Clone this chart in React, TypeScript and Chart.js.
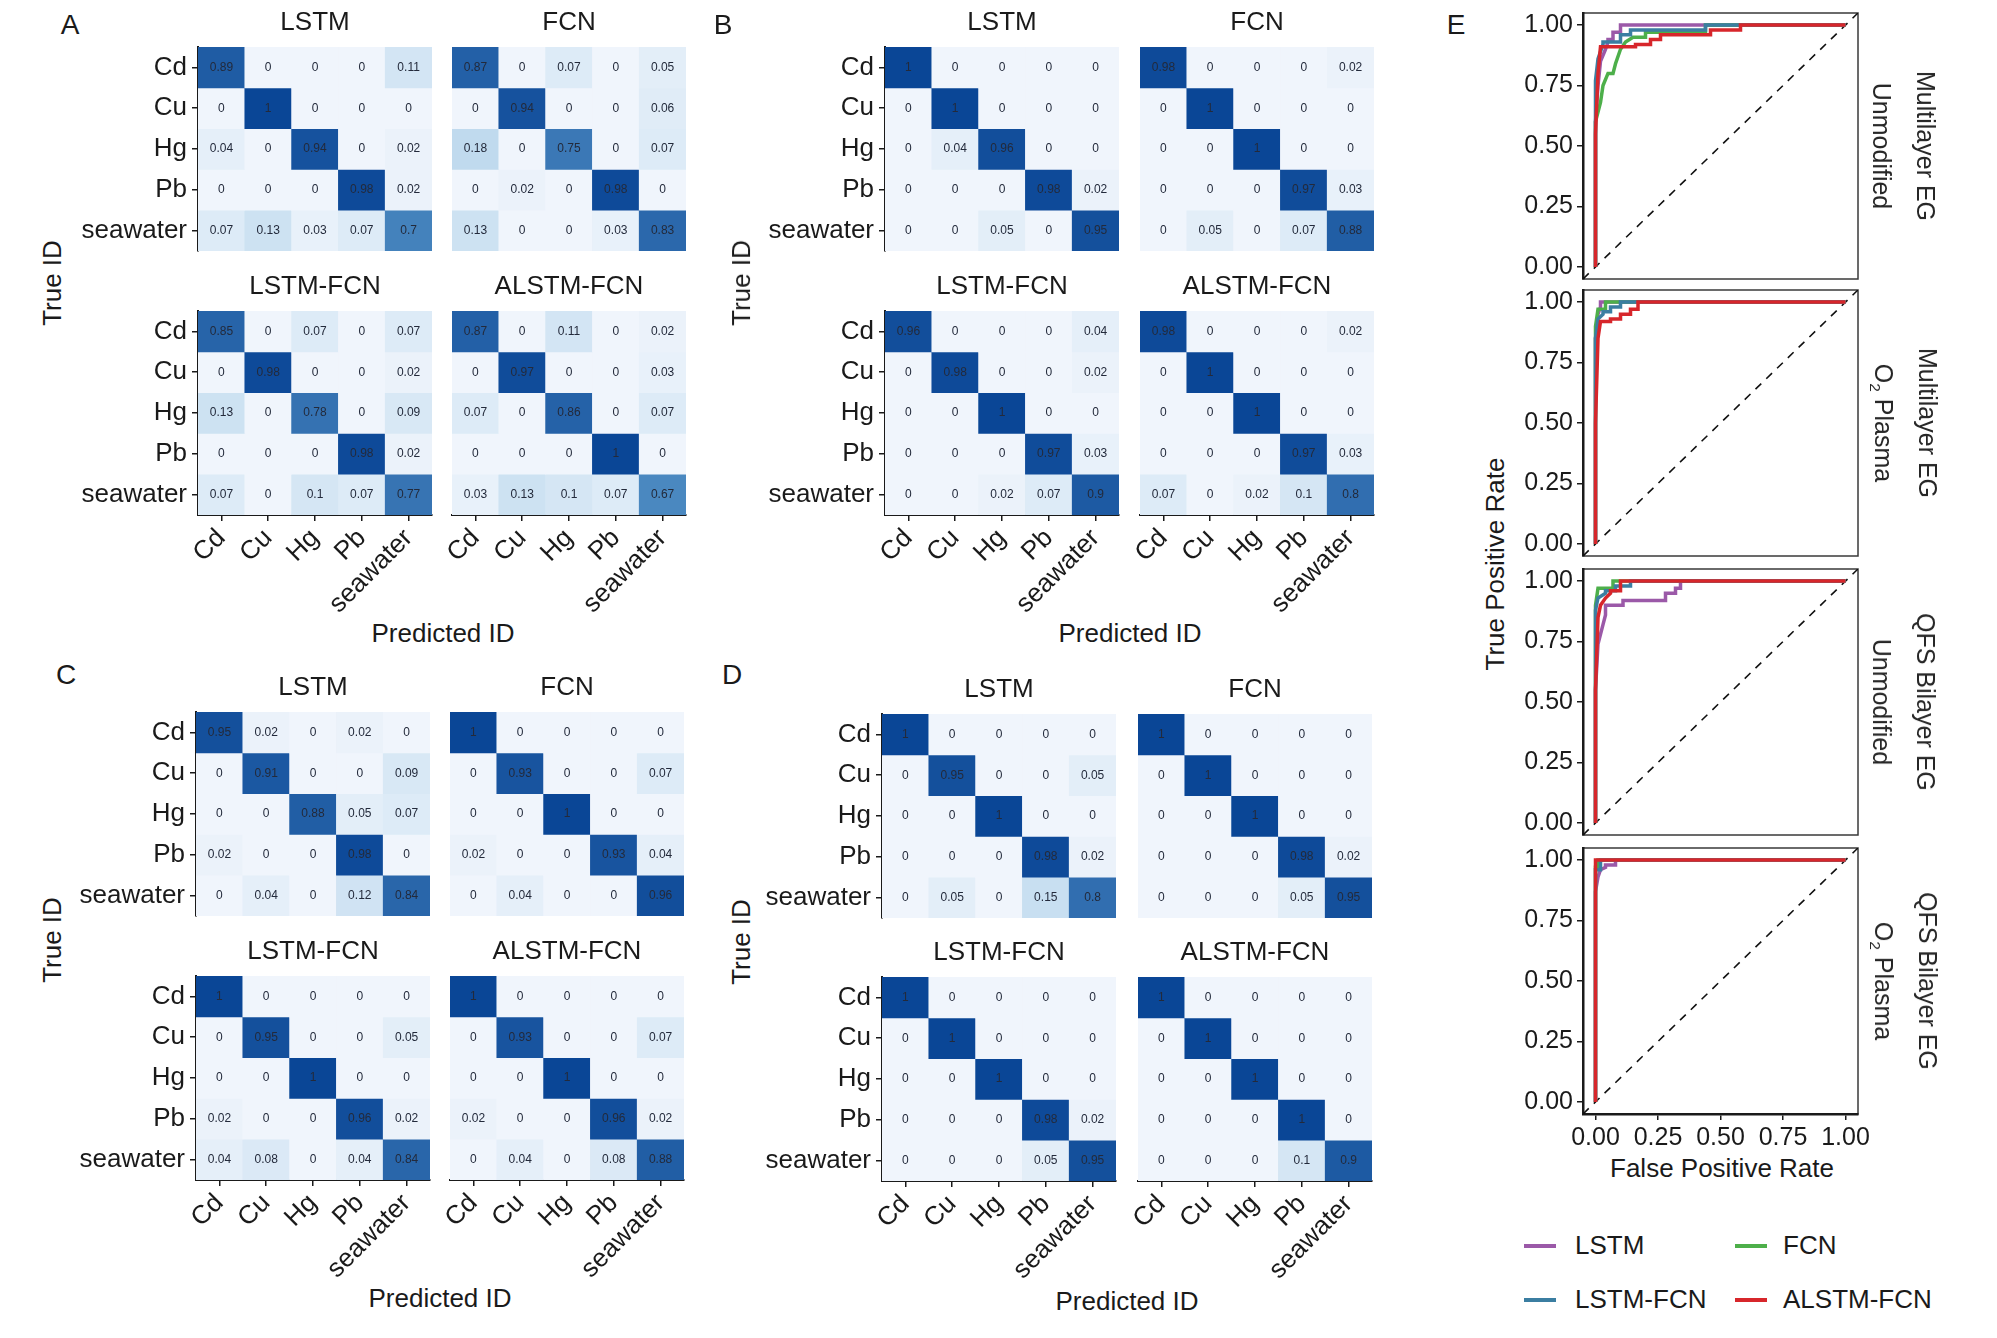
import React, { useEffect, useRef } from "react";
import { Chart, registerables } from "chart.js";

Chart.register(...registerables);

const FONT = '"Liberation Sans", Arial, Helvetica, sans-serif';
const INK = "#1a1a1a";

// ---- shared categories ----
const classes = ["Cd", "Cu", "Hg", "Pb", "seawater"];
const models = ["LSTM", "FCN", "LSTM-FCN", "ALSTM-FCN"];
const modelColors = ["#9b59a8", "#4daf4a", "#3b7ea1", "#d7262b"];
const rocTicks = [0, 0.25, 0.5, 0.75, 1];

// ---- panel A: confusion matrices (rows = true, cols = predicted) ----
const aLstm = [
  [0.89, 0, 0, 0, 0.11],
  [0, 1, 0, 0, 0],
  [0.04, 0, 0.94, 0, 0.02],
  [0, 0, 0, 0.98, 0.02],
  [0.07, 0.13, 0.03, 0.07, 0.7],
];
const aFcn = [
  [0.87, 0, 0.07, 0, 0.05],
  [0, 0.94, 0, 0, 0.06],
  [0.18, 0, 0.75, 0, 0.07],
  [0, 0.02, 0, 0.98, 0],
  [0.13, 0, 0, 0.03, 0.83],
];
const aLstmFcn = [
  [0.85, 0, 0.07, 0, 0.07],
  [0, 0.98, 0, 0, 0.02],
  [0.13, 0, 0.78, 0, 0.09],
  [0, 0, 0, 0.98, 0.02],
  [0.07, 0, 0.1, 0.07, 0.77],
];
const aAlstmFcn = [
  [0.87, 0, 0.11, 0, 0.02],
  [0, 0.97, 0, 0, 0.03],
  [0.07, 0, 0.86, 0, 0.07],
  [0, 0, 0, 1, 0],
  [0.03, 0.13, 0.1, 0.07, 0.67],
];

// ---- panel B ----
const bLstm = [
  [1, 0, 0, 0, 0],
  [0, 1, 0, 0, 0],
  [0, 0.04, 0.96, 0, 0],
  [0, 0, 0, 0.98, 0.02],
  [0, 0, 0.05, 0, 0.95],
];
const bFcn = [
  [0.98, 0, 0, 0, 0.02],
  [0, 1, 0, 0, 0],
  [0, 0, 1, 0, 0],
  [0, 0, 0, 0.97, 0.03],
  [0, 0.05, 0, 0.07, 0.88],
];
const bLstmFcn = [
  [0.96, 0, 0, 0, 0.04],
  [0, 0.98, 0, 0, 0.02],
  [0, 0, 1, 0, 0],
  [0, 0, 0, 0.97, 0.03],
  [0, 0, 0.02, 0.07, 0.9],
];
const bAlstmFcn = [
  [0.98, 0, 0, 0, 0.02],
  [0, 1, 0, 0, 0],
  [0, 0, 1, 0, 0],
  [0, 0, 0, 0.97, 0.03],
  [0.07, 0, 0.02, 0.1, 0.8],
];

// ---- panel C ----
const cLstm = [
  [0.95, 0.02, 0, 0.02, 0],
  [0, 0.91, 0, 0, 0.09],
  [0, 0, 0.88, 0.05, 0.07],
  [0.02, 0, 0, 0.98, 0],
  [0, 0.04, 0, 0.12, 0.84],
];
const cFcn = [
  [1, 0, 0, 0, 0],
  [0, 0.93, 0, 0, 0.07],
  [0, 0, 1, 0, 0],
  [0.02, 0, 0, 0.93, 0.04],
  [0, 0.04, 0, 0, 0.96],
];
const cLstmFcn = [
  [1, 0, 0, 0, 0],
  [0, 0.95, 0, 0, 0.05],
  [0, 0, 1, 0, 0],
  [0.02, 0, 0, 0.96, 0.02],
  [0.04, 0.08, 0, 0.04, 0.84],
];
const cAlstmFcn = [
  [1, 0, 0, 0, 0],
  [0, 0.93, 0, 0, 0.07],
  [0, 0, 1, 0, 0],
  [0.02, 0, 0, 0.96, 0.02],
  [0, 0.04, 0, 0.08, 0.88],
];

// ---- panel D ----
const dLstm = [
  [1, 0, 0, 0, 0],
  [0, 0.95, 0, 0, 0.05],
  [0, 0, 1, 0, 0],
  [0, 0, 0, 0.98, 0.02],
  [0, 0.05, 0, 0.15, 0.8],
];
const dFcn = [
  [1, 0, 0, 0, 0],
  [0, 1, 0, 0, 0],
  [0, 0, 1, 0, 0],
  [0, 0, 0, 0.98, 0.02],
  [0, 0, 0, 0.05, 0.95],
];
const dLstmFcn = [
  [1, 0, 0, 0, 0],
  [0, 1, 0, 0, 0],
  [0, 0, 1, 0, 0],
  [0, 0, 0, 0.98, 0.02],
  [0, 0, 0, 0.05, 0.95],
];
const dAlstmFcn = [
  [1, 0, 0, 0, 0],
  [0, 1, 0, 0, 0],
  [0, 0, 1, 0, 0],
  [0, 0, 0, 1, 0],
  [0, 0, 0, 0.1, 0.9],
];

// ---- panel E: ROC curves (false positive rate, true positive rate) ----
// Multilayer EG, unmodified
const mlUnmodLstmFpr = [0, 0, 0.01, 0.02, 0.04, 0.05, 0.05, 0.07, 0.07, 0.1, 0.1, 1];
const mlUnmodLstmTpr = [0, 0.6, 0.75, 0.85, 0.9, 0.93, 0.94, 0.94, 0.97, 0.97, 1, 1];
const mlUnmodFcnFpr = [0, 0, 0.02, 0.03, 0.05, 0.07, 0.08, 0.1, 0.12, 0.15, 0.2, 0.2, 0.44, 0.44, 1];
const mlUnmodFcnTpr = [0, 0.6, 0.68, 0.75, 0.8, 0.8, 0.84, 0.9, 0.93, 0.95, 0.95, 0.97, 0.97, 1, 1];
const mlUnmodLstmFcnFpr = [0, 0, 0.01, 0.03, 0.03, 0.1, 0.1, 0.14, 0.14, 0.44, 0.44, 1];
const mlUnmodLstmFcnTpr = [0, 0.77, 0.86, 0.92, 0.93, 0.93, 0.96, 0.96, 0.98, 0.98, 1, 1];
const mlUnmodAlstmFcnFpr = [0, 0, 0.01, 0.02, 0.16, 0.16, 0.22, 0.22, 0.26, 0.26, 0.46, 0.46, 0.58, 0.58, 1];
const mlUnmodAlstmFcnTpr = [0, 0.55, 0.8, 0.91, 0.91, 0.92, 0.92, 0.94, 0.94, 0.96, 0.96, 0.98, 0.98, 1, 1];

// Multilayer EG, O2 plasma
const mlPlasmaLstmFpr = [0, 0, 0.01, 0.02, 0.02, 1];
const mlPlasmaLstmTpr = [0, 0.85, 0.95, 0.98, 1, 1];
const mlPlasmaFcnFpr = [0, 0, 0.01, 0.04, 0.04, 1];
const mlPlasmaFcnTpr = [0, 0.9, 0.97, 0.97, 1, 1];
const mlPlasmaLstmFcnFpr = [0, 0, 0.01, 0.03, 0.03, 0.06, 0.06, 0.1, 0.1, 1];
const mlPlasmaLstmFcnTpr = [0, 0.85, 0.93, 0.95, 0.96, 0.96, 0.98, 0.98, 1, 1];
const mlPlasmaAlstmFcnFpr = [0, 0, 0.01, 0.02, 0.06, 0.06, 0.1, 0.1, 0.14, 0.14, 0.17, 0.17, 1];
const mlPlasmaAlstmFcnTpr = [0, 0.5, 0.85, 0.92, 0.92, 0.93, 0.93, 0.95, 0.95, 0.97, 0.97, 1, 1];

// QFS bilayer EG, unmodified
const qfsUnmodLstmFpr = [0, 0, 0.01, 0.02, 0.03, 0.04, 0.04, 0.11, 0.11, 0.28, 0.28, 0.32, 0.32, 0.34, 0.34, 1];
const qfsUnmodLstmTpr = [0, 0.55, 0.74, 0.78, 0.82, 0.86, 0.9, 0.9, 0.92, 0.92, 0.95, 0.95, 0.97, 0.97, 1, 1];
const qfsUnmodFcnFpr = [0, 0, 0.01, 0.07, 0.07, 1];
const qfsUnmodFcnTpr = [0, 0.9, 0.97, 0.97, 1, 1];
const qfsUnmodLstmFcnFpr = [0, 0, 0.01, 0.04, 0.04, 0.08, 0.08, 0.14, 0.14, 1];
const qfsUnmodLstmFcnTpr = [0, 0.88, 0.93, 0.95, 0.96, 0.96, 0.98, 0.98, 1, 1];
const qfsUnmodAlstmFcnFpr = [0, 0, 0.01, 0.02, 0.04, 0.06, 0.06, 0.1, 0.1, 1];
const qfsUnmodAlstmFcnTpr = [0, 0.55, 0.85, 0.9, 0.93, 0.95, 0.96, 0.96, 1, 1];

// QFS bilayer EG, O2 plasma
const qfsPlasmaLstmFpr = [0, 0, 0.01, 0.02, 0.04, 0.04, 0.08, 0.08, 1];
const qfsPlasmaLstmTpr = [0, 0.87, 0.93, 0.96, 0.97, 0.98, 0.98, 1, 1];
const qfsPlasmaFcnFpr = [0, 0, 0.01, 0.01, 1];
const qfsPlasmaFcnTpr = [0, 0.97, 0.97, 1, 1];
const qfsPlasmaLstmFcnFpr = [0, 0, 0.02, 0.02, 1];
const qfsPlasmaLstmFcnTpr = [0, 0.96, 0.96, 1, 1];
const qfsPlasmaAlstmFcnFpr = [0, 0, 1];
const qfsPlasmaAlstmFcnTpr = [0, 1, 1];

// ---- colour ramp for the tiles ----
const rampLow = [240, 245, 252];
const rampMid = [107, 170, 214];
const rampHigh = [10, 70, 150];

function shade(v: number): string {
  const t = Math.max(0, Math.min(1, v));
  const [a, b, f] = t < 0.5 ? [rampLow, rampMid, t / 0.5] : [rampMid, rampHigh, (t - 0.5) / 0.5];
  const c = a.map((ch, i) => Math.round(ch + (b[i] - ch) * f));
  return `rgb(${c[0]},${c[1]},${c[2]})`;
}

// ---- confusion matrix chart ----
const MAT_W = 234;
const MAT_H = 204;
const Y_AXIS_W = 140;
const TITLE_H = 40;
const X_AXIS_H = 100;
const PAD_RIGHT = 14;
const PAD_LEFT_BARE = 40;
const PAD_BOTTOM_BARE = 24;

type MatrixProps = {
  x0: number;
  y0: number;
  title: string;
  values: number[][];
  showY: boolean;
  showX: boolean;
};

function ConfusionMatrix({ x0, y0, title, values, showY, showX }: MatrixProps) {
  const ref = useRef<HTMLCanvasElement | null>(null);
  const leftSpace = showY ? Y_AXIS_W : PAD_LEFT_BARE;
  const bottomSpace = showX ? X_AXIS_H : PAD_BOTTOM_BARE;
  const width = leftSpace + MAT_W + PAD_RIGHT;
  const height = TITLE_H + MAT_H + bottomSpace;

  useEffect(() => {
    const canvas = ref.current;
    if (!canvas) return;

    const cellText = {
      id: "cellText",
      afterDatasetsDraw(chart: any) {
        const { ctx } = chart;
        const xs = chart.scales.x;
        const ys = chart.scales.y;
        ctx.save();
        ctx.font = `12px ${FONT}`;
        ctx.fillStyle = "#232a3b";
        ctx.textAlign = "center";
        ctx.textBaseline = "middle";
        values.forEach((row, i) =>
          row.forEach((v, j) => {
            ctx.fillText(String(v), xs.getPixelForValue(j), ys.getPixelForValue(i + 0.5));
          })
        );
        ctx.restore();
      },
    };

    const xScale: any = {
      display: showX,
      z: 1,
      grid: { drawOnChartArea: false, drawTicks: true, tickLength: 6, offset: false, color: INK, lineWidth: 1.5 },
      border: { display: true, color: INK, width: 2 },
      ticks: {
        color: INK,
        font: { family: FONT, size: 26 },
        minRotation: 45,
        maxRotation: 45,
        autoSkip: false,
        padding: 2,
      },
    };
    if (showX) {
      xScale.afterFit = (s: any) => {
        s.height = X_AXIS_H;
      };
    }

    const yScale: any = {
      type: "linear",
      min: 0,
      max: 5,
      reverse: true,
      display: showY,
      z: 1,
      afterBuildTicks: (s: any) => {
        s.ticks = classes.map((_, i) => ({ value: i + 0.5 }));
      },
      ticks: {
        color: INK,
        font: { family: FONT, size: 26 },
        padding: 5,
        autoSkip: false,
        callback: (_v: any, idx: number) => classes[idx],
      },
      grid: { drawOnChartArea: false, drawTicks: true, tickLength: 6, color: INK, lineWidth: 1.5 },
      border: { display: true, color: INK, width: 2 },
    };
    if (showY) {
      yScale.afterFit = (s: any) => {
        s.width = Y_AXIS_W;
      };
    }

    const chart = new Chart(canvas, {
      type: "bar",
      data: {
        labels: classes,
        datasets: classes.map((name, i) => ({
          label: name,
          data: classes.map(() => [i, i + 1]),
          backgroundColor: values[i].map(shade),
          borderWidth: 0,
          barPercentage: 1,
          categoryPercentage: 1,
          grouped: false,
        })),
      },
      options: {
        responsive: false,
        animation: false,
        events: [],
        layout: {
          padding: {
            left: showY ? 0 : PAD_LEFT_BARE,
            right: PAD_RIGHT,
            top: 0,
            bottom: showX ? 0 : PAD_BOTTOM_BARE,
          },
        },
        plugins: {
          legend: { display: false },
          tooltip: { enabled: false },
          title: {
            display: true,
            text: title,
            fullSize: false,
            color: INK,
            font: { family: FONT, size: 26, weight: "normal", lineHeight: 1.2 },
            padding: { top: 0, bottom: TITLE_H - 26 * 1.2 },
          },
        },
        scales: { x: xScale, y: yScale },
      } as any,
      plugins: [cellText],
    });
    return () => chart.destroy();
  }, [values, title, showX, showY]);

  return (
    <canvas
      ref={ref}
      width={width}
      height={height}
      style={{ position: "absolute", left: x0 - leftSpace, top: y0 - TITLE_H, width, height }}
    />
  );
}

// ---- ROC chart ----
const ROC_X = 1583;
const ROC_W = 275;
const ROC_H = 266;
const ROC_Y_AXIS_W = 80;
const ROC_PAD_T = 20;
const ROC_PAD_R = 26;
const ROC_X_AXIS_H = 46;
const AXIS_MIN = -0.05;
const AXIS_MAX = 1.05;

type Curve = { fpr: number[]; tpr: number[] };

function RocPanel({ top, curves, showX }: { top: number; curves: Curve[]; showX: boolean }) {
  const ref = useRef<HTMLCanvasElement | null>(null);
  const width = ROC_Y_AXIS_W + ROC_W + ROC_PAD_R;
  const bottomSpace = showX ? ROC_X_AXIS_H : 20;
  const height = ROC_PAD_T + ROC_H + bottomSpace;

  useEffect(() => {
    const canvas = ref.current;
    if (!canvas) return;

    const frame = {
      id: "frame",
      beforeDraw(chart: any) {
        const { ctx, chartArea: a } = chart;
        ctx.save();
        ctx.fillStyle = "#ffffff";
        ctx.fillRect(a.left, a.top, a.width, a.height);
        ctx.strokeStyle = "#3a3a3a";
        ctx.lineWidth = 1.5;
        ctx.strokeRect(a.left, a.top, a.width, a.height);
        ctx.restore();
      },
    };

    const drawOrder = [3, 2, 1, 0];
    const datasets: any[] = curves.map((c, k) => ({
      label: models[k],
      data: c.fpr.map((x, i) => ({ x, y: c.tpr[i] })),
      showLine: true,
      borderColor: modelColors[k],
      borderWidth: 3.5,
      pointRadius: 0,
      fill: false,
      tension: 0,
      order: drawOrder[k],
    }));
    datasets.push({
      label: "chance",
      data: [
        { x: AXIS_MIN, y: AXIS_MIN },
        { x: AXIS_MAX, y: AXIS_MAX },
      ],
      showLine: true,
      borderColor: "#111111",
      borderWidth: 1.6,
      borderDash: [8, 7],
      pointRadius: 0,
      fill: false,
      order: 10,
    });

    const tickFont = { family: FONT, size: 25 };
    const xScale: any = {
      type: "linear",
      min: AXIS_MIN,
      max: AXIS_MAX,
      display: showX,
      afterBuildTicks: (s: any) => {
        s.ticks = rocTicks.map((v) => ({ value: v }));
      },
      ticks: {
        color: INK,
        font: tickFont,
        padding: 3,
        maxRotation: 0,
        autoSkip: false,
        callback: (v: any) => Number(v).toFixed(2),
      },
      grid: { drawOnChartArea: false, drawTicks: true, tickLength: 6, color: INK, lineWidth: 1.5 },
      border: { display: true, color: INK, width: 2.5 },
    };
    if (showX) {
      xScale.afterFit = (s: any) => {
        s.height = ROC_X_AXIS_H;
      };
    }
    const yScale: any = {
      type: "linear",
      min: AXIS_MIN,
      max: AXIS_MAX,
      afterBuildTicks: (s: any) => {
        s.ticks = rocTicks.map((v) => ({ value: v }));
      },
      ticks: {
        color: INK,
        font: tickFont,
        padding: 4,
        autoSkip: false,
        callback: (v: any) => Number(v).toFixed(2),
      },
      grid: { drawOnChartArea: false, drawTicks: true, tickLength: 6, color: INK, lineWidth: 1.5 },
      border: { display: true, color: INK, width: 2.5 },
      afterFit: (s: any) => {
        s.width = ROC_Y_AXIS_W;
      },
    };

    const chart = new Chart(canvas, {
      type: "scatter",
      data: { datasets },
      options: {
        responsive: false,
        animation: false,
        events: [],
        layout: { padding: { top: ROC_PAD_T, right: ROC_PAD_R, bottom: showX ? 0 : 20, left: 0 } },
        plugins: { legend: { display: false }, tooltip: { enabled: false } },
        scales: { x: xScale, y: yScale },
      } as any,
      plugins: [frame],
    });
    return () => chart.destroy();
  }, [curves, showX]);

  return (
    <canvas
      ref={ref}
      width={width}
      height={height}
      style={{ position: "absolute", left: ROC_X - ROC_Y_AXIS_W, top: top - ROC_PAD_T, width, height }}
    />
  );
}

// ---- text helper ----
function Label({
  x,
  y,
  size,
  rotate = 0,
  color = INK,
  children,
}: {
  x: number;
  y: number;
  size: number;
  rotate?: number;
  color?: string;
  children: React.ReactNode;
}) {
  return (
    <div
      style={{
        position: "absolute",
        left: x,
        top: y,
        transform: `translate(-50%, -50%) rotate(${rotate}deg)`,
        fontSize: size,
        lineHeight: 1.15,
        whiteSpace: "nowrap",
        color,
      }}
    >
      {children}
    </div>
  );
}

// ---- layout of the four matrix panels ----
const matrixPanels = [
  { letter: "A", letterAt: [70, 25], cols: [198, 452], rows: [47, 311], mats: [aLstm, aFcn, aLstmFcn, aAlstmFcn], trueAt: [53, 283], predAt: [443, 634] },
  { letter: "B", letterAt: [723, 25], cols: [885, 1140], rows: [47, 311], mats: [bLstm, bFcn, bLstmFcn, bAlstmFcn], trueAt: [742, 283], predAt: [1130, 634] },
  { letter: "C", letterAt: [66, 675], cols: [196, 450], rows: [712, 976], mats: [cLstm, cFcn, cLstmFcn, cAlstmFcn], trueAt: [53, 940], predAt: [440, 1299] },
  { letter: "D", letterAt: [732, 675], cols: [882, 1138], rows: [714, 977], mats: [dLstm, dFcn, dLstmFcn, dAlstmFcn], trueAt: [742, 942], predAt: [1127, 1302] },
];

const rocTops = [13, 290, 569, 848];
const rocCurves: Curve[][] = [
  [
    { fpr: mlUnmodLstmFpr, tpr: mlUnmodLstmTpr },
    { fpr: mlUnmodFcnFpr, tpr: mlUnmodFcnTpr },
    { fpr: mlUnmodLstmFcnFpr, tpr: mlUnmodLstmFcnTpr },
    { fpr: mlUnmodAlstmFcnFpr, tpr: mlUnmodAlstmFcnTpr },
  ],
  [
    { fpr: mlPlasmaLstmFpr, tpr: mlPlasmaLstmTpr },
    { fpr: mlPlasmaFcnFpr, tpr: mlPlasmaFcnTpr },
    { fpr: mlPlasmaLstmFcnFpr, tpr: mlPlasmaLstmFcnTpr },
    { fpr: mlPlasmaAlstmFcnFpr, tpr: mlPlasmaAlstmFcnTpr },
  ],
  [
    { fpr: qfsUnmodLstmFpr, tpr: qfsUnmodLstmTpr },
    { fpr: qfsUnmodFcnFpr, tpr: qfsUnmodFcnTpr },
    { fpr: qfsUnmodLstmFcnFpr, tpr: qfsUnmodLstmFcnTpr },
    { fpr: qfsUnmodAlstmFcnFpr, tpr: qfsUnmodAlstmFcnTpr },
  ],
  [
    { fpr: qfsPlasmaLstmFpr, tpr: qfsPlasmaLstmTpr },
    { fpr: qfsPlasmaFcnFpr, tpr: qfsPlasmaFcnTpr },
    { fpr: qfsPlasmaLstmFcnFpr, tpr: qfsPlasmaLstmFcnTpr },
    { fpr: qfsPlasmaAlstmFcnFpr, tpr: qfsPlasmaAlstmFcnTpr },
  ],
];

const O2 = (
  <>
    O<span style={{ fontSize: "0.62em", position: "relative", top: "0.3em" }}>2</span> Plasma
  </>
);
const stripLabels: [string, React.ReactNode][] = [
  ["Multilayer EG", "Unmodified"],
  ["Multilayer EG", O2],
  ["QFS Bilayer EG", "Unmodified"],
  ["QFS Bilayer EG", O2],
];

const legendKeyX = [1524, 1735];
const legendTextX = [1575, 1783];
const legendRowY = [1246, 1300];

export default function App() {
  return (
    <div
      style={{
        position: "absolute",
        left: 0,
        top: 0,
        width: 1997,
        height: 1338,
        background: "#ffffff",
        fontFamily: FONT,
        color: INK,
        overflow: "hidden",
      }}
    >
      {matrixPanels.map((p) => (
        <React.Fragment key={p.letter}>
          <Label x={p.letterAt[0]} y={p.letterAt[1]} size={28}>
            {p.letter}
          </Label>
          <Label x={p.trueAt[0]} y={p.trueAt[1]} size={26} rotate={-90}>
            True ID
          </Label>
          <Label x={p.predAt[0]} y={p.predAt[1]} size={26}>
            Predicted ID
          </Label>
          {p.mats.map((m, k) => {
            const col = k % 2;
            const row = Math.floor(k / 2);
            return (
              <ConfusionMatrix
                key={k}
                x0={p.cols[col]}
                y0={p.rows[row]}
                title={models[k]}
                values={m}
                showY={col === 0}
                showX={row === 1}
              />
            );
          })}
        </React.Fragment>
      ))}

      <Label x={1456} y={25} size={28}>
        E
      </Label>
      <Label x={1496} y={564} size={26} rotate={-90}>
        True Positive Rate
      </Label>
      <Label x={1722} y={1169} size={26}>
        False Positive Rate
      </Label>
      {rocTops.map((top, i) => (
        <React.Fragment key={i}>
          <RocPanel top={top} curves={rocCurves[i]} showX={i === rocTops.length - 1} />
          <div
            style={{
              position: "absolute",
              left: 1904,
              top: top + ROC_H / 2,
              transform: "translate(-50%, -50%) rotate(90deg)",
              textAlign: "center",
              fontSize: 25,
              lineHeight: "44px",
              whiteSpace: "nowrap",
              color: "#262626",
            }}
          >
            <div>{stripLabels[i][0]}</div>
            <div>{stripLabels[i][1]}</div>
          </div>
        </React.Fragment>
      ))}

      {models.map((name, k) => {
        const col = k % 2;
        const row = Math.floor(k / 2);
        return (
          <React.Fragment key={name}>
            <div
              style={{
                position: "absolute",
                left: legendKeyX[col],
                top: legendRowY[row] - 2,
                width: 32,
                height: 4,
                background: modelColors[k],
              }}
            />
            <div
              style={{
                position: "absolute",
                left: legendTextX[col],
                top: legendRowY[row],
                transform: "translateY(-50%)",
                fontSize: 26,
                lineHeight: 1.15,
                whiteSpace: "nowrap",
              }}
            >
              {name}
            </div>
          </React.Fragment>
        );
      })}
    </div>
  );
}
